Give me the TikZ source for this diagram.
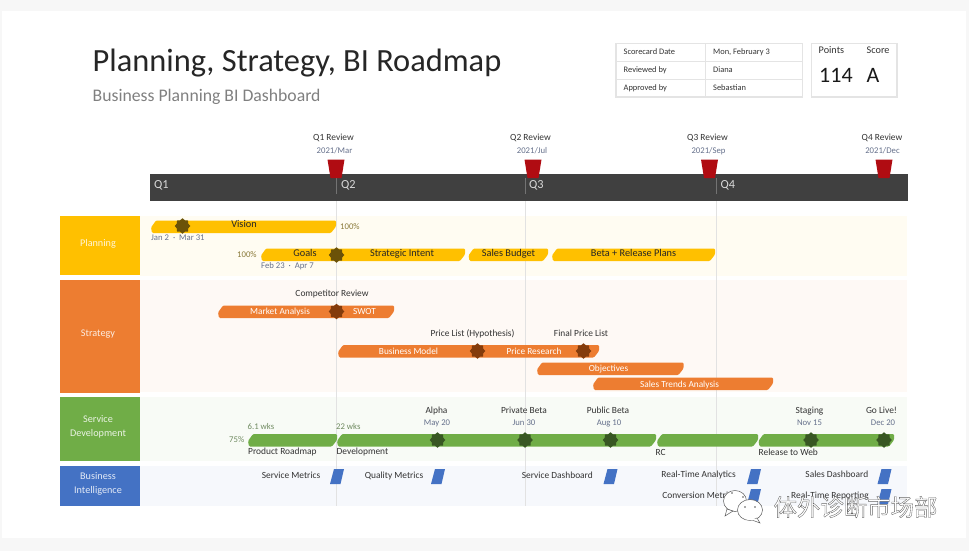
\documentclass[tikz,border=0pt]{standalone}
\usepackage{fontspec}
\setmainfont{Carlito}
\newfontfamily\cjkwm{Noto Sans CJK SC}
\usetikzlibrary{shapes.geometric}
\definecolor{cYellow}{HTML}{FFC000}
\definecolor{cOrange}{HTML}{ED7D31}
\definecolor{cGreen}{HTML}{70AD47}
\definecolor{cBlue}{HTML}{4472C4}
\definecolor{cDarkY}{HTML}{6B5208}
\definecolor{cDarkO}{HTML}{843C0C}
\definecolor{cDarkG}{HTML}{385723}
\definecolor{cRed}{HTML}{B00C12}
\definecolor{cBand}{HTML}{404040}
\definecolor{cGrid}{HTML}{E2E2E2}
\definecolor{cTable}{HTML}{E4E4E4}
\definecolor{cDate}{HTML}{66718C}
\definecolor{cPct}{HTML}{8A7A3A}
\definecolor{cGpct}{HTML}{6F8A60}
\definecolor{cTxt}{HTML}{333333}
\tikzset{
  lab/.style={inner sep=0pt,text height=8pt,text depth=1.4pt,font=\fontsize{9.4}{10}\selectfont,text=cTxt},
  labw/.style={lab,anchor=west},
  inbar/.style={lab,text=white,font=\fontsize{9.3}{10}\selectfont},
  inbark/.style={lab,text=black!85,font=\fontsize{10.3}{11}\selectfont},
  datetxt/.style={lab,text=cDate,font=\fontsize{8.7}{10}\selectfont},
  pct/.style={lab,text=cPct,font=\fontsize{8.7}{10}\selectfont,anchor=west},
  gpct/.style={lab,text=cGpct,font=\fontsize{8.7}{10}\selectfont,anchor=west},
  cat/.style={inner sep=0pt,text=white,align=center,font=\fontsize{10.2}{14}\selectfont,text opacity=.85},
  tbl/.style={inner sep=0pt,text height=7.6pt,text depth=1.4pt,anchor=west,font=\fontsize{8.4}{9}\selectfont,text=cTxt},
  tblbig/.style={inner sep=0pt,text height=14pt,text depth=0pt,anchor=west,font=\fontsize{22}{24}\selectfont,text=black!90},
  qlab/.style={inner sep=0pt,anchor=west,text=white!85!black,font=\fontsize{12.3}{13}\selectfont},
  starm/.style={star,star points=8,star point ratio=1.25,minimum size=15.5pt,inner sep=0pt,draw=none},
  gridl/.style={draw=cGrid,line width=.8pt},
  tline/.style={draw=cTable,line width=1.2pt},
  wm/.style={inner sep=0pt,font=\cjkwm\fontsize{23.4}{24}\selectfont},
}
\newcommand{\ganttbar}[5]{%
  \fill[#5,rounded corners=1.2pt] (#2+5,#4) -- (#3,#4) -- (#3,#4+6) -- (#3-5,#4+12.5) -- (#2+1,#4+12.5) -- (#2,#4+7) -- cycle;
  \coordinate (#1) at (#2,#4);}
\newcommand{\flagm}[2]{\fill[cRed] (#2-8.5,159.5) -- (#2+8.5,159.5) -- (#2+5.5,178) -- (#2-5.5,178) -- cycle;\coordinate (#1) at (#2,159.5);}
\newcommand{\bimark}[3]{\fill[cBlue] (#2-2.5,#3) -- (#2+7.5,#3) -- (#2+4,#3+15) -- (#2-6.5,#3+15) -- cycle;\coordinate (#1) at (#2,#3);}
\begin{document}
\begin{tikzpicture}[x=1pt,y=-1pt]
\useasboundingbox (0,0) rectangle (969,551);
\fill[black!3] (0,0) rectangle (969,551);
\fill[white] (2,11) rectangle (966,538);

% title
\node[inner sep=0pt,anchor=base west,text=black!85,font=\fontsize{32.4}{36}\selectfont] (title) at (92.5,71.5) {Planning, Strategy, BI Roadmap};
\node[inner sep=0pt,anchor=base west,text=black!50,font=\fontsize{17.7}{20}\selectfont] (subtitle) at (92.5,101.5) {Business Planning BI Dashboard};

% scorecard
\draw[tline] (616,43.5) rectangle (802.5,97);
\draw[tline] (616,61.3) -- (802.5,61.3) (616,79.2) -- (802.5,79.2) (705.5,43.5) -- (705.5,97);
\draw[tline] (811.5,43.5) rectangle (897,97);
\node[tbl] (t1) at (623.5,51.5) {Scorecard Date};
\node[tbl] (t2) at (713,51.5) {Mon, February 3};
\node[tbl] (t3) at (623.5,69.5) {Reviewed by};
\node[tbl] (t4) at (713,69.5) {Diana};
\node[tbl] (t5) at (623.5,87.5) {Approved by};
\node[tbl] (t6) at (713,87.5) {Sebastian};
\node[tbl,font=\fontsize{10.2}{11}\selectfont] (pts) at (818.5,50) {Points};
\node[tbl,font=\fontsize{10.2}{11}\selectfont] (scr) at (866.5,50) {Score};
\node[tblbig] (n114) at (819,75) {114};
\node[tblbig] (nA) at (866.5,75) {A};

% rows
\fill[cYellow!5] (140,216) rectangle (907,276);
\fill[cOrange!5] (140,280) rectangle (907,392);
\fill[cGreen!5] (140,397) rectangle (907,461);
\fill[cBlue!5] (140,466) rectangle (907,506);
\node[fill=cYellow,minimum width=80pt,minimum height=59pt,anchor=north west,inner sep=0pt] (rowA) at (60,216) {};
\node[fill=cOrange,minimum width=80pt,minimum height=113pt,anchor=north west,inner sep=0pt] (rowB) at (60,280) {};
\node[fill=cGreen,minimum width=80pt,minimum height=64pt,anchor=north west,inner sep=0pt] (rowC) at (60,397) {};
\node[fill=cBlue,minimum width=80pt,minimum height=40pt,anchor=north west,inner sep=0pt] (rowD) at (60,466) {};
\node[cat] (rowAt) at (98,243.5) {Planning};
\node[cat] (rowBt) at (98,334) {Strategy};
\node[cat] (rowCt) at (98,426.5) {Service\\Development};
\node[cat] (rowDt) at (98,483.5) {Business\\Intelligence};

% timescale band
\fill[cBand] (149.5,173.5) rectangle (908,201);
\draw[gridl] (336,201) -- (336,506) (525,201) -- (525,506) (716,201) -- (716,506);
\draw[draw=white!45!black,line width=.6pt] (336,178) -- (336,194) (525,178) -- (525,194) (716,178) -- (716,194);
\node[qlab] (q1) at (154,185) {Q1};
\node[qlab] (q2) at (341,185) {Q2};
\node[qlab] (q3) at (529,185) {Q3};
\node[qlab] (q4) at (720.5,185) {Q4};
\flagm{f1}{336}\flagm{f2}{533}\flagm{f3}{709.5}\flagm{f4}{884}
\node[lab] (r1) at (333.5,137) {Q1 Review};
\node[datetxt] (d1) at (334.5,150.5) {2021/Mar};
\node[lab] (r2) at (530.5,137) {Q2 Review};
\node[datetxt] (d2) at (532,150.5) {2021/Jul};
\node[lab] (r3) at (707.5,137) {Q3 Review};
\node[datetxt] (d3) at (708.5,150.5) {2021/Sep};
\node[lab] (r4) at (882,137) {Q4 Review};
\node[datetxt] (d4) at (882.5,150.5) {2021/Dec};

% planning
\ganttbar{bVision}{151}{336}{220.5}{cYellow}
\ganttbar{bGoals}{261}{465}{248.5}{cYellow}
\ganttbar{bSales}{468.5}{548}{248.5}{cYellow}
\ganttbar{bBeta}{552}{715}{248.5}{cYellow}
\node[starm,fill=cDarkY] (s1) at (182.5,226) {};
\node[starm,fill=cDarkY] (s2) at (336.5,255) {};
\node[inbark] (tVision) at (244,224.5) {Vision};
\node[inbark] (tGoals) at (305,253) {Goals};
\node[inbark] (tSI) at (402,253) {Strategic Intent};
\node[inbark] (tSB) at (508.5,253) {Sales Budget};
\node[inbark] (tBR) at (633.5,253) {Beta + Release Plans};
\node[datetxt,anchor=west] (dJan) at (151,237) {Jan 2 ~·~ Mar 31};
\node[datetxt,anchor=west] (dFeb) at (261,265) {Feb 23 ~·~ Apr 7};
\node[pct] (p1) at (340,226) {100\%};
\node[pct] (p2) at (237,254) {100\%};

% strategy
\ganttbar{bMA}{218}{394}{305.5}{cOrange}
\ganttbar{bBM}{338}{599}{345}{cOrange}
\ganttbar{bOb}{537}{683.5}{362.5}{cOrange}
\ganttbar{bST}{593}{773}{377.5}{cOrange}
\node[starm,fill=cDarkO] (s3) at (336.5,311.5) {};
\node[starm,fill=cDarkO] (s4) at (477.5,351) {};
\node[starm,fill=cDarkO] (s5) at (583.5,351) {};
\node[inbar] (tMA) at (280,311.5) {Market Analysis};
\node[inbar] (tSW) at (364.5,311.5) {SWOT};
\node[inbar] (tBM) at (408.5,351) {Business Model};
\node[inbar] (tPR) at (534,351) {Price Research};
\node[inbar] (tOb) at (608.5,368.5) {Objectives};
\node[inbar] (tST) at (679.5,384) {Sales Trends Analysis};
\node[lab] (tCR) at (332,293.5) {Competitor Review};
\node[lab] (tPL) at (472.5,333) {Price List (Hypothesis)};
\node[lab] (tFP) at (581,333) {Final Price List};

% service development
\ganttbar{bPR}{248}{337}{434}{cGreen}
\ganttbar{bDe}{337}{656}{434}{cGreen}
\ganttbar{bRC}{657}{758}{434}{cGreen}
\ganttbar{bRW}{758.5}{894}{434}{cGreen}
\foreach \nn/\sx in {s6/437.5,s7/525,s8/610.5,s9/811,s10/884}
  \node[starm,fill=cDarkG] (\nn) at (\sx,440) {};
\node[gpct] (w1) at (247.5,426) {6.1 wks};
\node[gpct] (w2) at (336,426) {22 wks};
\node[gpct] (w3) at (229,439.5) {75\%};
\node[labw] (tPRd) at (248,451.5) {Product Roadmap};
\node[labw] (tDev) at (336.5,451.5) {Development};
\node[labw] (tRC) at (655.5,452.5) {RC};
\node[labw] (tRW) at (758.5,452.5) {Release to Web};
\node[lab] (mA) at (436.5,410) {Alpha};
\node[datetxt] (mAd) at (437,422.5) {May 20};
\node[lab] (mB) at (524,410) {Private Beta};
\node[datetxt] (mBd) at (524,422.5) {Jun 30};
\node[lab] (mC) at (608,410) {Public Beta};
\node[datetxt] (mCd) at (609,422.5) {Aug 10};
\node[lab] (mD) at (809.5,410) {Staging};
\node[datetxt] (mDd) at (809.5,422.5) {Nov 15};
\node[lab] (mE) at (881.5,410) {Go Live!};
\node[datetxt] (mEd) at (883,422.5) {Dec 20};

% business intelligence
\bimark{k1}{336.5}{469}\bimark{k2}{437.5}{469}\bimark{k3}{610}{469}
\bimark{k4}{753.5}{469}\bimark{k5}{884}{469}
\bimark{k6}{753.5}{489}\bimark{k7}{884}{489}
\node[lab,anchor=east] (l1) at (320.5,475) {Service Metrics};
\node[lab,anchor=east] (l2) at (423.5,475) {Quality Metrics};
\node[lab,anchor=east] (l3) at (593,475) {Service Dashboard};
\node[lab,anchor=east] (l4) at (736,474) {Real-Time Analytics};
\node[lab,anchor=east] (l5) at (868.5,474) {Sales Dashboard};
\node[lab,anchor=east] (l6) at (736,495) {Conversion Metrics};
\node[lab,anchor=east] (l7) at (869,495) {Real-Time Reporting};

% watermark
\fill[white,draw=black!65,line width=.5pt] (735,501) ellipse (11.5 and 10.5);
\fill[white,draw=black!65,line width=.5pt] (727,509) -- (725,516) -- (733,511) -- cycle;
\fill[white,draw=black!65,line width=.5pt] (750,510) ellipse (12.5 and 10.5);
\fill[white,draw=black!65,line width=.5pt] (757,518) -- (760,523) -- (752,520) -- cycle;
\fill[white] (752,519.3) ellipse (5 and 1);
\fill[black!65] (732,493) circle (.9) (743,497) circle (.9) (745,507) circle (.8) (755,507) circle (.8);
\node[wm,text=white] (wmark) at (855.5,507) {\special{pdf:code q 2 Tr 0.35 w 0.4 G}体外诊断市场部\special{pdf:code Q}};
\end{tikzpicture}
\end{document}
